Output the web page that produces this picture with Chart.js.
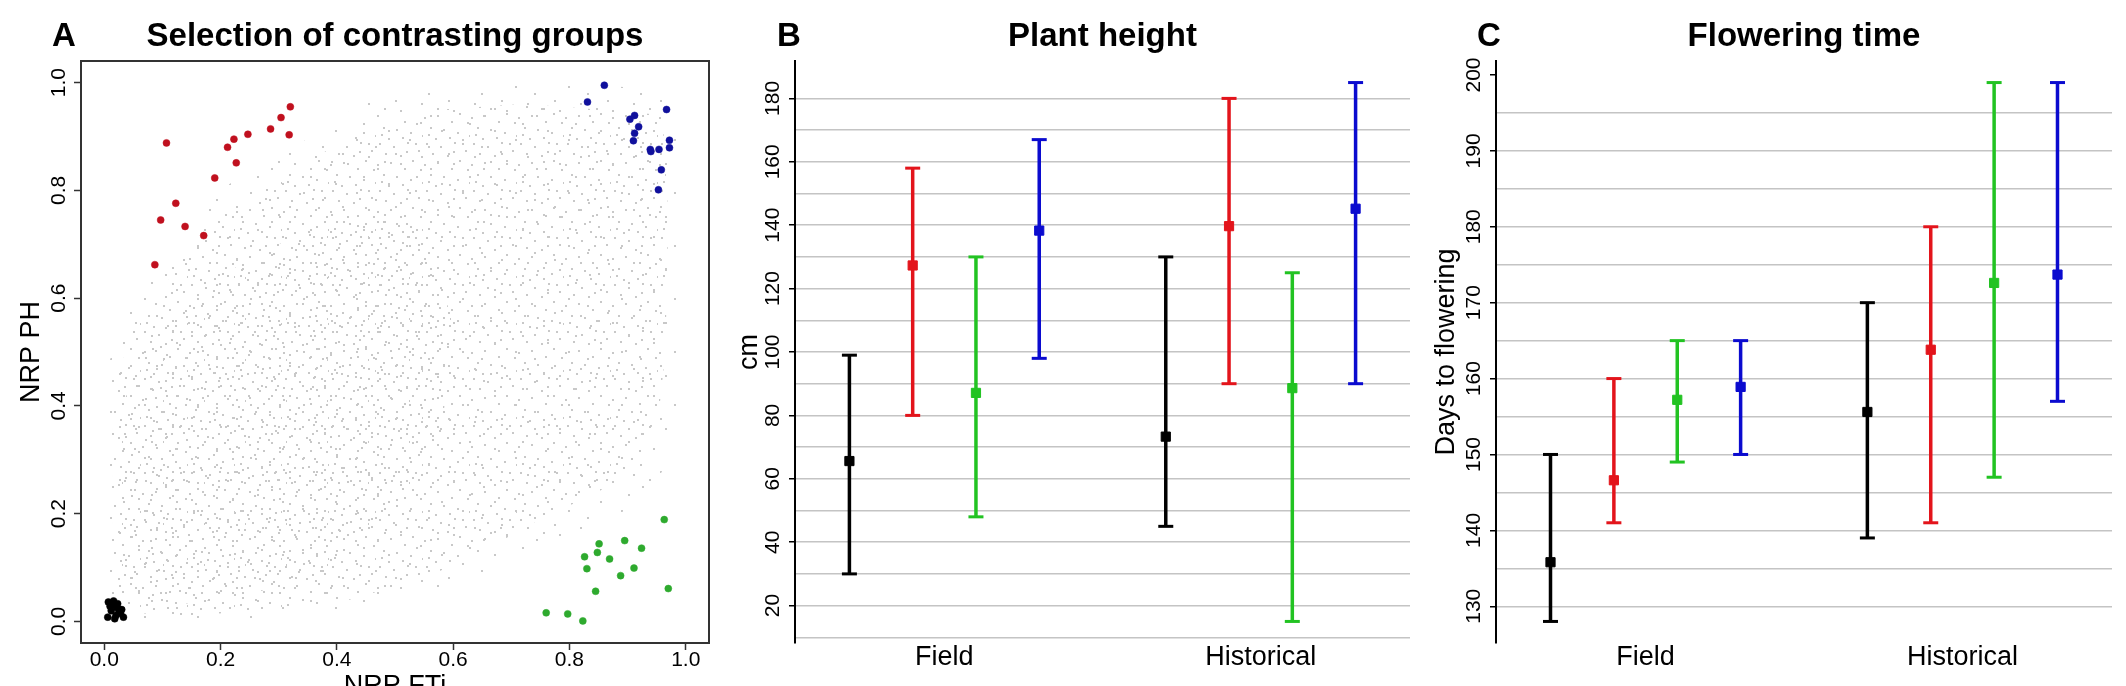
<!DOCTYPE html>
<html>
<head>
<meta charset="utf-8">
<script src="https://cdn.jsdelivr.net/npm/chart.js@4.4.0/dist/chart.umd.min.js"></script>
<style>
  html, body { margin: 0; padding: 0; background: #fff; }
  #wrap { position: relative; width: 2126px; height: 686px; overflow: hidden; }
  canvas { position: absolute; top: 0; }
</style>
</head>
<body>
<div id="wrap">
  <canvas id="panelA" width="725" height="686" style="left:0px"></canvas>
  <canvas id="panelB" width="700" height="686" style="left:725px"></canvas>
  <canvas id="panelC" width="701" height="686" style="left:1425px"></canvas>
</div>
<script>
// ---- Panel A: selected accessions (NRP FTi, NRP PH) ----
const blackPts = [[0.006,0.008],[0.007,0.036],[0.016,0.038],[0.010,0.028],[0.021,0.026],[0.026,0.022],[0.030,0.022],[0.020,0.011],[0.033,0.008],[0.025,0.016],[0.015,0.031],[0.028,0.015],[0.012,0.020],[0.023,0.033],[0.018,0.005]];
const redPts = [[0.107,0.888],[0.320,0.955],[0.304,0.935],[0.286,0.914],[0.247,0.904],[0.318,0.903],[0.223,0.895],[0.212,0.880],[0.227,0.851],[0.190,0.823],[0.123,0.776],[0.097,0.745],[0.139,0.733],[0.171,0.716],[0.087,0.662]];
const greenPts = [[0.963,0.189],[0.895,0.150],[0.851,0.144],[0.924,0.136],[0.848,0.128],[0.826,0.120],[0.869,0.116],[0.830,0.098],[0.911,0.099],[0.888,0.085],[0.970,0.061],[0.845,0.056],[0.760,0.016],[0.797,0.014],[0.823,0.001]];
const bluePts = [[0.860,0.995],[0.831,0.964],[0.967,0.950],[0.904,0.932],[0.912,0.939],[0.919,0.918],[0.912,0.906],[0.910,0.892],[0.972,0.893],[0.972,0.879],[0.939,0.876],[0.940,0.872],[0.954,0.876],[0.958,0.838],[0.953,0.801]];

// outline of the grey cloud of all other accessions (outer fringe, main body, dense core)
const cloudOuter = [[0.005,0.0],[0.005,0.47],[0.03,0.55],[0.07,0.63],[0.12,0.70],[0.20,0.80],[0.28,0.86],[0.36,0.90],[0.44,0.96],[0.55,0.98],[0.70,0.995],[0.85,0.995],[0.985,0.985],[0.99,0.80],[0.985,0.55],[0.99,0.35],[0.96,0.28],[0.93,0.22],[0.86,0.19],[0.78,0.15],[0.68,0.10],[0.58,0.06],[0.46,0.03],[0.32,0.01],[0.15,0.0]];
const cloudBody = [[0.015,0.02],[0.015,0.42],[0.05,0.55],[0.10,0.62],[0.18,0.72],[0.27,0.80],[0.36,0.86],[0.46,0.92],[0.58,0.95],[0.72,0.96],[0.85,0.95],[0.96,0.94],[0.97,0.75],[0.965,0.50],[0.955,0.40],[0.92,0.30],[0.85,0.24],[0.75,0.19],[0.65,0.13],[0.55,0.08],[0.42,0.04],[0.28,0.02],[0.12,0.01]];
const cloudCore = [[0.03,0.05],[0.03,0.40],[0.08,0.52],[0.18,0.63],[0.30,0.70],[0.45,0.76],[0.55,0.74],[0.60,0.55],[0.58,0.35],[0.50,0.20],[0.40,0.10],[0.25,0.05],[0.12,0.03]];

const scatterTicks = [0, 0.2, 0.4, 0.6, 0.8, 1.0];

// ---- Panels B and C: groups in the same order as the colours of panel A ----
const settings = ['Field', 'Historical'];

const heightFieldLow  = [30, 80, 48, 98];
const heightFieldMean = [65.6, 127.3, 87.1, 138.3];
const heightFieldHigh = [99, 158, 130, 167];
const heightHistLow   = [45, 90, 15, 90];
const heightHistMean  = [73.3, 139.7, 88.6, 145.2];
const heightHistHigh  = [130, 180, 125, 185];

const flowerFieldLow  = [128, 141, 149, 150];
const flowerFieldMean = [135.8, 146.6, 157.2, 158.9];
const flowerFieldHigh = [150, 160, 165, 165];
const flowerHistLow   = [139, 141, 147, 157];
const flowerHistMean  = [155.6, 163.8, 172.6, 173.7];
const flowerHistHigh  = [170, 180, 199, 199];

const heightTicks = [20, 40, 60, 80, 100, 120, 140, 160, 180];
const heightGrid  = [10, 20, 30, 40, 50, 60, 70, 80, 90, 100, 110, 120, 130, 140, 150, 160, 170, 180];
const flowerTicks = [130, 140, 150, 160, 170, 180, 190, 200];
const flowerGrid  = [130, 135, 140, 145, 150, 155, 160, 165, 170, 175, 180, 185, 190, 195];

// ---- styles ----
const FONT = "'Liberation Sans', Arial, Helvetica, sans-serif";
const pointColors = ['#000000', '#c0101e', '#2eaa2e', '#10109c'];
const barColors = ['#000000', '#e3141b', '#22c322', '#0b0bcf'];
const GRID = '#c4c4c4';
const CLEAR = 'rgba(0,0,0,0)';

Chart.defaults.font.family = FONT;
Chart.defaults.color = '#000';
Chart.defaults.animation = false;
Chart.defaults.events = [];
Chart.defaults.plugins.legend.display = false;
Chart.defaults.plugins.tooltip.enabled = false;

// small tiles of grey specks used to texture the cloud
function dotPattern(ctx, size, dots) {
  const c = document.createElement('canvas');
  c.width = size; c.height = size;
  const g = c.getContext('2d');
  g.fillStyle = '#c8c8c8';
  dots.forEach(([x, y]) => g.fillRect(x, y, 2, 2));
  return ctx.createPattern(c, 'repeat');
}

function cloudLayer(ctx, poly, size, dots) {
  return {
    type: 'line',
    data: poly.concat([poly[0]]).map(([x, y]) => ({ x, y })),
    borderWidth: 0,
    borderColor: CLEAR,
    pointRadius: 0,
    tension: 0,
    fill: 'shape',
    backgroundColor: dotPattern(ctx, size, dots),
    order: 10
  };
}

function groupPoints(pts, color) {
  return {
    type: 'scatter',
    data: pts.map(([x, y]) => ({ x, y })),
    pointRadius: 3.5,
    pointBackgroundColor: color,
    pointBorderColor: color,
    pointBorderWidth: 0.5,
    order: 1
  };
}

// one whisker + mean square per group and setting
function errorBars(low, mean, high, settingIdx) {
  const sets = [];
  barColors.forEach((c, i) => {
    const x = settingIdx * 5 + i;
    sets.push({
      type: 'line',
      data: [{ x, y: low[i] }, { x, y: high[i] }],
      borderColor: c,
      borderWidth: 3.5,
      pointStyle: 'line',
      pointRadius: 7.5,
      pointBorderWidth: 3,
      pointBorderColor: c,
      fill: false,
      order: 2
    });
    sets.push({
      type: 'scatter',
      data: [{ x, y: mean[i] }],
      pointStyle: 'rect',
      pointRadius: 6.5,
      pointBackgroundColor: c,
      pointBorderColor: c,
      pointBorderWidth: 1,
      order: 1
    });
  });
  return sets;
}

// titles, panel letters, axis titles and rotated y tick labels
const panelText = {
  id: 'panelText',
  afterDraw(chart, args, o) {
    const ctx = chart.ctx;
    const a = chart.chartArea;
    const midY = (a.top + a.bottom) / 2;
    ctx.save();
    ctx.fillStyle = '#000';

    ctx.font = 'bold 33px ' + FONT;
    ctx.textBaseline = 'alphabetic';
    ctx.textAlign = 'left';
    ctx.fillText(o.letter, a.left + o.letterDx, 46);
    ctx.textAlign = 'center';
    ctx.fillText(o.title, (a.left + a.right) / 2, 46);

    ctx.font = '27px ' + FONT;
    ctx.save();
    ctx.translate(a.left - o.yTitleDx, midY);
    ctx.rotate(-Math.PI / 2);
    ctx.fillText(o.yTitle, 0, 0);
    ctx.restore();
    if (o.xTitle) ctx.fillText(o.xTitle, (a.left + a.right) / 2, 694);

    ctx.font = '21px ' + FONT;
    const ys = chart.scales.y;
    o.yLabels.forEach(v => {
      ctx.save();
      ctx.translate(a.left - 16.5, ys.getPixelForValue(v));
      ctx.rotate(-Math.PI / 2);
      ctx.fillText(v.toFixed(o.decimals), 0, 0);
      ctx.restore();
    });
    ctx.restore();
  }
};

function fixSize(prop, size) {
  return s => {
    s[prop] = size;
    s.paddingLeft = 0; s.paddingRight = 0; s.paddingTop = 0; s.paddingBottom = 0;
  };
}

// ---------------- Panel A ----------------
const ctxA = document.getElementById('panelA').getContext('2d');
new Chart(ctxA, {
  type: 'scatter',
  data: {
    datasets: [
      cloudLayer(ctxA, cloudOuter, 53, [[6,9],[29,4],[45,17],[17,24],[38,33],[4,40],[24,47],[50,50],[13,2]]),
      cloudLayer(ctxA, cloudBody, 47, [[3,2],[17,5],[31,1],[42,9],[9,12],[24,14],[36,19],[1,23],[14,21],[28,27],[44,28],[7,33],[20,35],[34,38],[46,41],[12,44],[26,43],[39,2],[5,40],[30,10]]),
      cloudLayer(ctxA, cloudCore, 41, [[8,3],[27,7],[37,18],[15,16],[2,26],[22,29],[33,37],[11,38],[29,20],[40,31]]),
      groupPoints(blackPts, pointColors[0]),
      groupPoints(redPts, pointColors[1]),
      groupPoints(greenPts, pointColors[2]),
      groupPoints(bluePts, pointColors[3])
    ]
  },
  options: {
    responsive: false,
    devicePixelRatio: 1,
    layout: { padding: { left: 0, right: 16, top: 61, bottom: 0 } },
    plugins: {
      panelText: { letter: 'A', letterDx: -29, title: 'Selection of contrasting groups', yTitle: 'NRP PH', yTitleDx: 42.5, xTitle: 'NRP FTi', yLabels: scatterTicks, decimals: 1 }
    },
    scales: {
      x: {
        type: 'linear', min: -0.04, max: 1.04,
        afterBuildTicks: s => { s.ticks = scatterTicks.map(v => ({ value: v })); },
        afterFit: fixSize('height', 43),
        grid: { drawOnChartArea: false, drawTicks: true, tickLength: 7, tickColor: '#333', tickWidth: 1.5 },
        border: { display: true, color: '#333', width: 2 },
        ticks: { font: { size: 21, lineHeight: 1 }, padding: 0, autoSkip: false, maxRotation: 0, callback: v => v.toFixed(1) }
      },
      y: {
        type: 'linear', min: -0.04, max: 1.04,
        afterBuildTicks: s => { s.ticks = scatterTicks.map(v => ({ value: v })); },
        afterFit: fixSize('width', 81),
        grid: { drawOnChartArea: false, drawTicks: true, tickLength: 7, tickColor: '#333', tickWidth: 1.5 },
        border: { display: true, color: '#333', width: 2 },
        ticks: { display: false }
      },
      x2: {
        type: 'linear', position: 'top', min: 0, max: 1,
        afterFit: fixSize('height', 0),
        grid: { drawOnChartArea: false, drawTicks: false },
        border: { display: true, color: '#333', width: 2 },
        ticks: { display: false }
      },
      y2: {
        type: 'linear', position: 'right', min: 0, max: 1,
        afterFit: fixSize('width', 0),
        grid: { drawOnChartArea: false, drawTicks: false },
        border: { display: true, color: '#333', width: 2 },
        ticks: { display: false }
      }
    }
  },
  plugins: [panelText]
});

// ---------------- Panels B and C ----------------
function rangePad(lows, highs) {
  const lo = Math.min(...lows), hi = Math.max(...highs);
  const pad = 0.04 * (hi - lo);
  return [lo - pad, hi + pad];
}

function errorPanel(id, cfg) {
  const ctx = document.getElementById(id).getContext('2d');
  const [ymin, ymax] = rangePad(cfg.lows, cfg.highs);
  const tickVals = Array.from(new Set(cfg.grid.concat(cfg.labels))).sort((p, q) => p - q);
  return new Chart(ctx, {
    type: 'scatter',
    data: {
      datasets: errorBars(cfg.fieldLow, cfg.fieldMean, cfg.fieldHigh, 0)
        .concat(errorBars(cfg.histLow, cfg.histMean, cfg.histHigh, 1))
    },
    options: {
      responsive: false,
      devicePixelRatio: 1,
      layout: { padding: { left: 0, right: cfg.padRight, top: 61, bottom: 0 } },
      plugins: {
        panelText: { letter: cfg.letter, letterDx: cfg.letterDx, title: cfg.title, yTitle: cfg.yTitle, yTitleDx: cfg.yTitleDx, yLabels: cfg.labels, decimals: 0 }
      },
      scales: {
        x: {
          type: 'linear', min: -0.86, max: 8.86,
          afterBuildTicks: s => { s.ticks = [1.5, 6.5].map(v => ({ value: v })); },
          afterFit: fixSize('height', 43),
          grid: { display: false, drawTicks: false },
          border: { display: false },
          ticks: { font: { size: 27, lineHeight: 1 }, padding: 1, autoSkip: false, maxRotation: 0, callback: (v, i) => settings[i] }
        },
        y: {
          type: 'linear', min: ymin, max: ymax,
          afterBuildTicks: s => { s.ticks = tickVals.map(v => ({ value: v })); },
          afterFit: fixSize('width', cfg.axisLeft),
          grid: {
            drawOnChartArea: true, drawTicks: true, tickLength: 6, lineWidth: 1.5, tickWidth: 1.5,
            color: c => cfg.grid.includes(c.tick.value) ? GRID : CLEAR,
            tickColor: c => cfg.labels.includes(c.tick.value) ? '#000' : CLEAR
          },
          border: { display: true, color: '#000', width: 2 },
          ticks: { display: false }
        }
      }
    },
    plugins: [panelText]
  });
}

errorPanel('panelB', {
  letter: 'B', letterDx: -18, title: 'Plant height', yTitle: 'cm', yTitleDx: 38.5,
  axisLeft: 70, padRight: 15,
  fieldLow: heightFieldLow, fieldMean: heightFieldMean, fieldHigh: heightFieldHigh,
  histLow: heightHistLow, histMean: heightHistMean, histHigh: heightHistHigh,
  lows: heightFieldLow.concat(heightHistLow), highs: heightFieldHigh.concat(heightHistHigh),
  grid: heightGrid, labels: heightTicks
});

errorPanel('panelC', {
  letter: 'C', letterDx: -19, title: 'Flowering time', yTitle: 'Days to flowering', yTitleDx: 42.5,
  axisLeft: 71, padRight: 14,
  fieldLow: flowerFieldLow, fieldMean: flowerFieldMean, fieldHigh: flowerFieldHigh,
  histLow: flowerHistLow, histMean: flowerHistMean, histHigh: flowerHistHigh,
  lows: flowerFieldLow.concat(flowerHistLow), highs: flowerFieldHigh.concat(flowerHistHigh),
  grid: flowerGrid, labels: flowerTicks
});
</script>
</body>
</html>
